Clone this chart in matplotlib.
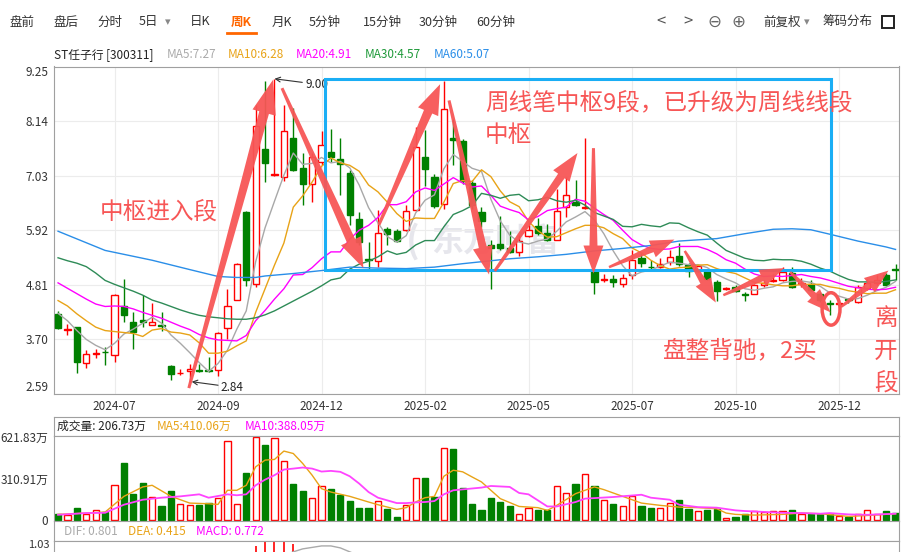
import numpy as np
import matplotlib
matplotlib.use('Agg')
from matplotlib import pyplot as plt
from matplotlib.patches import Rectangle, Polygon, Ellipse

plt.rcParams['font.family'] = ['Noto Sans CJK SC', 'DejaVu Sans']

W, H = 922, 552

# weekly candles (index 0 = first visible week)
opens = [4.22, 3.90, 3.95, 3.22, 3.41, 3.45, 3.38, 4.37, 4.05, 4.09,
         4.00, 4.00, 3.16, 3.01, 3.05, 3.08, 3.07, 3.07, 3.93, 4.51,
         6.29, 4.83, 7.58, 7.05, 7.00, 7.80, 7.19, 6.86, 7.30, 7.51,
         7.36, 7.08, 6.14, 5.34, 5.29, 5.95, 5.90, 5.92, 6.34, 7.40,
         7.00, 6.45, 7.80, 7.73, 6.88, 6.30, 5.63, 5.64, 5.55, 5.48,
         5.80, 6.00, 5.86, 5.73, 6.39, 6.49, 6.38, 5.09, 4.91, 4.93,
         4.83, 5.02, 5.36, 5.18, 5.17, 5.27, 5.39, 5.21, 5.09, 5.09,
         4.87, 4.72, 4.77, 4.62, 4.63, 4.80, 4.89, 4.90, 5.05, 4.82,
         4.83, 4.63, 4.45, 4.42, 4.51, 4.46, 4.74, 4.84, 5.00, 5.13]
highs = [4.28, 4.01, 3.96, 3.49, 3.51, 3.54, 4.62, 4.92, 4.26, 4.61,
         4.44, 4.26, 3.17, 3.10, 3.21, 3.21, 3.34, 3.85, 4.73, 5.25,
         6.31, 8.46, 8.96, 9.00, 8.46, 8.41, 7.49, 7.50, 7.93, 7.97,
         7.80, 7.14, 6.29, 5.68, 6.34, 5.98, 5.95, 6.43, 8.01, 7.95,
         7.07, 8.95, 8.19, 7.78, 6.94, 6.40, 5.73, 6.20, 5.90, 5.82,
         6.11, 6.17, 6.05, 6.76, 7.00, 6.94, 7.80, 5.10, 5.04, 5.02,
         5.04, 5.52, 5.48, 5.32, 5.35, 5.51, 5.66, 5.25, 5.22, 5.14,
         4.90, 4.77, 4.80, 4.66, 4.83, 4.90, 5.04, 5.17, 5.18, 4.94,
         4.91, 4.66, 4.50, 4.46, 4.55, 4.80, 4.92, 5.00, 5.06, 5.23]
lows = [3.92, 3.78, 3.02, 3.12, 3.33, 3.17, 3.24, 4.05, 3.51, 3.96,
        3.99, 3.88, 2.87, 2.97, 2.84, 3.04, 3.04, 2.95, 3.71, 4.50,
        4.78, 4.77, 6.90, 7.02, 6.92, 7.12, 6.43, 6.50, 7.25, 7.31,
        6.63, 6.02, 5.61, 5.14, 5.17, 5.61, 5.68, 5.90, 6.32, 6.81,
        6.37, 6.36, 7.25, 6.87, 6.35, 5.98, 4.73, 5.52, 5.45, 5.39,
        5.78, 5.82, 5.70, 5.72, 6.19, 6.41, 6.36, 4.63, 4.87, 4.77,
        4.77, 4.93, 5.17, 5.14, 5.16, 5.21, 5.19, 4.97, 5.07, 4.90,
        4.49, 4.70, 4.66, 4.49, 4.62, 4.76, 4.86, 4.89, 4.75, 4.76,
        4.68, 4.47, 4.19, 4.38, 4.44, 4.45, 4.70, 4.80, 4.78, 4.90]
closes = [3.93, 3.92, 3.24, 3.40, 3.43, 3.44, 4.61, 4.19, 3.86, 4.05,
          4.05, 3.98, 3.00, 3.02, 3.10, 3.06, 3.05, 3.84, 4.37, 5.24,
          4.90, 8.03, 7.29, 7.07, 7.93, 7.14, 6.87, 7.41, 7.65, 7.40,
          7.26, 6.22, 5.68, 5.32, 5.86, 5.85, 5.71, 6.31, 7.61, 7.16,
          6.41, 8.38, 7.75, 6.92, 6.43, 6.10, 5.55, 5.55, 5.48, 5.70,
          5.92, 5.86, 5.73, 6.31, 6.63, 6.43, 6.40, 4.87, 4.93, 4.87,
          4.95, 5.32, 5.26, 5.17, 5.23, 5.38, 5.23, 5.09, 5.19, 4.93,
          4.68, 4.74, 4.69, 4.61, 4.80, 4.84, 4.91, 5.07, 4.77, 4.84,
          4.71, 4.50, 4.43, 4.44, 4.50, 4.77, 4.84, 4.90, 4.80, 5.11]

ma5 = [4.23, 4.08, 3.88, 3.70, 3.58, 3.49, 3.62, 3.81, 3.91, 4.03,
       4.15, 4.03, 3.79, 3.62, 3.43, 3.23, 3.05, 3.21, 3.48, 3.91,
       4.28, 5.28, 5.97, 6.51, 7.04, 7.49, 7.26, 7.28, 7.40, 7.29,
       7.32, 7.19, 6.84, 6.38, 6.07, 5.79, 5.68, 5.81, 6.27, 6.53,
       6.64, 7.17, 7.46, 7.32, 7.18, 7.12, 6.55, 6.11, 5.82, 5.68,
       5.64, 5.70, 5.74, 5.90, 6.09, 6.19, 6.30, 6.13, 5.85, 5.50,
       5.20, 4.99, 5.07, 5.11, 5.19, 5.27, 5.25, 5.22, 5.22, 5.16,
       5.02, 4.93, 4.85, 4.73, 4.70, 4.74, 4.77, 4.85, 4.88, 4.89,
       4.86, 4.78, 4.65, 4.58, 4.52, 4.53, 4.60, 4.69, 4.76, 4.88]
ma10 = [4.49, 4.38, 4.22, 4.08, 3.95, 3.88, 3.86, 3.84, 3.82, 3.76,
        3.89, 3.92, 3.85, 3.83, 3.79, 3.63, 3.42, 3.42, 3.46, 3.57,
        3.67, 4.25, 4.73, 5.21, 5.66, 6.39, 6.62, 6.90, 7.22, 7.39,
        7.29, 7.24, 7.12, 6.84, 6.70, 6.49, 6.26, 6.10, 6.17, 6.16,
        6.16, 6.49, 6.87, 6.93, 6.91, 7.15, 7.01, 6.72, 6.50, 6.40,
        6.10, 5.91, 5.78, 5.79, 5.87, 5.95, 6.02, 6.02, 5.97, 5.85,
        5.75, 5.56, 5.46, 5.31, 5.20, 5.13, 5.16, 5.17, 5.21, 5.22,
        5.14, 5.08, 5.04, 4.95, 4.86, 4.84, 4.81, 4.79, 4.79, 4.82,
        4.82, 4.82, 4.77, 4.74, 4.69, 4.66, 4.63, 4.64, 4.64, 4.71]
ma20 = [4.85, 4.74, 4.63, 4.52, 4.42, 4.37, 4.38, 4.37, 4.32, 4.25,
        4.19, 4.13, 4.05, 3.97, 3.90, 3.80, 3.73, 3.69, 3.68, 3.67,
        3.78, 4.08, 4.29, 4.52, 4.73, 5.01, 5.02, 5.16, 5.34, 5.48,
        5.48, 5.74, 5.92, 6.02, 6.18, 6.44, 6.44, 6.50, 6.70, 6.78,
        6.73, 6.86, 6.99, 6.88, 6.80, 6.82, 6.63, 6.41, 6.34, 6.28,
        6.13, 6.20, 6.32, 6.36, 6.39, 6.55, 6.51, 6.37, 6.24, 6.12,
        5.92, 5.73, 5.62, 5.55, 5.53, 5.54, 5.59, 5.59, 5.59, 5.53,
        5.44, 5.32, 5.25, 5.13, 5.03, 4.98, 4.99, 4.98, 5.00, 5.02,
        4.98, 4.95, 4.90, 4.84, 4.78, 4.75, 4.72, 4.71, 4.72, 4.76]
ma30 = [5.36, 5.30, 5.25, 5.18, 5.05, 4.90, 4.82, 4.75, 4.68, 4.60,
        4.50, 4.44, 4.37, 4.30, 4.24, 4.19, 4.16, 4.14, 4.12, 4.11,
        4.11, 4.14, 4.20, 4.28, 4.38, 4.48, 4.58, 4.68, 4.79, 4.91,
        4.95, 5.13, 5.23, 5.29, 5.38, 5.50, 5.43, 5.47, 5.62, 5.71,
        5.71, 5.99, 6.24, 6.32, 6.42, 6.67, 6.63, 6.57, 6.63, 6.65,
        6.52, 6.54, 6.59, 6.52, 6.49, 6.53, 6.43, 6.28, 6.21, 6.14,
        6.00, 5.99, 6.04, 6.01, 5.99, 6.07, 6.06, 5.97, 5.89, 5.82,
        5.66, 5.51, 5.43, 5.35, 5.31, 5.30, 5.33, 5.32, 5.32, 5.29,
        5.23, 5.15, 5.09, 5.00, 4.92, 4.87, 4.87, 4.86, 4.88, 4.91]
ma60_idx = [0, 5, 10, 14, 17, 19, 21, 22, 25, 28, 31, 34, 37, 40, 43, 45,
            48, 51, 54, 57, 60, 63, 66, 70, 73, 76, 78, 80, 82, 85, 88, 89]
ma60 = [5.90, 5.51, 5.31, 5.12, 4.98, 4.96, 4.96, 4.99, 5.04, 5.10, 5.17,
        5.15, 5.14, 5.17, 5.24, 5.28, 5.34, 5.38, 5.43, 5.50, 5.55, 5.61,
        5.70, 5.75, 5.85, 5.94, 5.95, 5.93, 5.84, 5.70, 5.58, 5.53]

# volume, 万股
volumes = [50, 37, 95, 50, 80, 65, 266, 423, 194, 281,
           174, 104, 216, 124, 117, 112, 129, 169, 589, 124,
           353, 621.83, 560, 612, 440, 269, 216, 169, 254, 231,
           187, 142, 92, 92, 142, 82, 25, 117, 318, 318,
           174, 535, 530, 244, 124, 75, 164, 137, 104, 50,
           92, 80, 80, 259, 206, 269, 348, 254, 154, 119,
           109, 184, 104, 90, 90, 132, 149, 82, 72, 75,
           82, 20, 22, 50, 72, 60, 72, 72, 75, 50,
           45, 50, 47, 35, 22, 50, 80, 50, 67, 57]
vma5_idx = [0, 3, 5, 7, 9, 10, 12, 14, 16, 17, 18, 19, 20, 21, 22, 23, 24, 25,
            26, 27, 28, 29, 31, 33, 34, 36, 37, 38, 39, 40, 41, 42, 43, 44, 45,
            47, 49, 51, 52, 53, 55, 57, 58, 60, 62, 64, 66, 68, 70, 71, 72, 74,
            77, 79, 81, 83, 84, 86, 89]
vma5 = [45, 55, 62, 179, 249, 261, 179, 129, 124, 119, 224, 224, 261, 398,
        448, 453, 515, 497, 423, 336, 236, 211, 179, 137, 117, 82, 95, 137,
        169, 179, 328, 373, 361, 323, 286, 162, 104, 95, 75, 112, 199, 249,
        229, 179, 129, 112, 99, 95, 87, 55, 45, 40, 45, 55, 50, 37, 30, 37, 50]
vma10_idx = [0, 3, 5, 7, 9, 11, 13, 15, 16, 18, 19, 20, 21, 22, 23, 24, 25,
             26, 27, 28, 29, 30, 31, 32, 33, 34, 35, 36, 37, 38, 39, 40, 41,
             42, 45, 46, 48, 49, 50, 52, 53, 55, 56, 59, 62, 63, 65, 66, 68,
             70, 72, 73, 77, 79, 81, 82, 84, 86, 89]
vma10 = [42, 55, 57, 117, 154, 169, 179, 194, 169, 194, 187, 194, 261, 303,
         336, 378, 385, 393, 385, 363, 368, 361, 328, 274, 211, 169, 149, 129,
         129, 134, 137, 144, 194, 224, 244, 256, 249, 204, 194, 104, 104, 137,
         162, 174, 191, 169, 154, 117, 99, 95, 75, 70, 57, 55, 50, 55, 45, 42, 50]

# MACD strip (only its top edge is visible)
macd_idx = [21, 22, 23, 24, 25]
macd = [0.93, 1.20, 1.30, 1.30, 0.97]
dif_idx = [23, 25, 26, 28, 29, 30, 31, 33]
dif = [0.66, 0.81, 0.87, 0.93, 0.93, 0.89, 0.81, 0.65]

price_ticks = [2.59, 3.70, 4.81, 5.92, 7.03, 8.14, 9.25]
date_ticks = [6, 17, 28, 39, 50, 61, 72, 83]
date_labels = ['2024-07', '2024-09', '2024-12', '2025-02',
               '2025-05', '2025-07', '2025-10', '2025-12']
vol_ticks = [0, 310.91, 621.83]
vol_labels = ['0', '310.91万', '621.83万']

RED = '#ff0000'
GREEN = '#008000'
ANN = '#f75656'
FRAME = '#a0a0a0'

fig = plt.figure(figsize=(W / 100, H / 100), dpi=100)


def fx(px):
    return px / W


def fy(py):
    return 1 - py / H


def axes_px(x0, y0, x1, y1):
    a = fig.add_axes([fx(x0), fy(y1), (x1 - x0) / W, (y1 - y0) / H])
    for s in a.spines.values():
        s.set_color(FRAME)
    return a


idx = np.arange(len(closes))
o = np.array(opens)
c = np.array(closes)
up = c >= o
edge = np.where(up, RED, GREEN)
face = np.where(up, 'white', GREEN)
xmin, xmax = -0.43, 89.37

# ---- price panel
ax = axes_px(54, 66.5, 899, 394)
ax.set_xlim(xmin, xmax)
ax.set_ylim(2.59, 9.25)
ax.set_xticks(date_ticks)
ax.set_xticklabels(date_labels)
ax.set_yticks(price_ticks)
ax.set_yticklabels(['%.2f' % v for v in price_ticks])
ax.grid(color='#ececec', lw=0.8)
ax.set_axisbelow(True)
ax.tick_params(length=0, labelsize=8.5, colors='#333333')
ax.tick_params(axis='x', pad=4)
ax.tick_params(axis='y', pad=4)
ax.yaxis.get_major_ticks()[0].label1.set_verticalalignment('bottom')
ax.yaxis.get_major_ticks()[-1].label1.set_verticalalignment('top')

# watermark
ax.text(fx(431), fy(243), '东方财富', transform=fig.transFigure, fontsize=23,
        fontweight='bold', color='#e6e6ec', va='center', ha='left', zorder=0.5)
ax.text(fx(413), fy(242), '(', transform=fig.transFigure, fontsize=26,
        fontweight='bold', color='#e6e6ec', va='center', ha='center', zorder=0.5)

ax.vlines(idx, lows, highs, colors=edge, lw=1, zorder=2)
body = np.maximum(np.abs(c - o), 0.012)
ax.bar(idx, body, bottom=np.minimum(o, c), width=0.66, color=face,
       edgecolor=edge, linewidth=1, zorder=3)

ax.plot(idx, ma5, color='#a8a8a8', lw=1, zorder=4)
ax.plot(idx, ma10, color='#e8a317', lw=1, zorder=4)
ax.plot(idx, ma20, color='#ff00ff', lw=1, zorder=4)
ax.plot(idx, ma30, color='#2e8b57', lw=1, zorder=4)
ax.plot(ma60_idx, ma60, color='#2a8ee8', lw=1, zorder=4)

ax.annotate('9.00', xy=(23, 9.00), xytext=(26.25, 8.89), fontsize=8.5,
            color='#222222', va='center', ha='left',
            arrowprops=dict(arrowstyle='->', color='#333333', lw=0.8,
                            shrinkA=0, shrinkB=0))
ax.annotate('2.84', xy=(14.2, 2.84), xytext=(17.3, 2.73), fontsize=8.5,
            color='#222222', va='center', ha='left', annotation_clip=False,
            arrowprops=dict(arrowstyle='->', color='#333333', lw=0.8,
                            shrinkA=0, shrinkB=0))

ax.add_patch(Rectangle((28.4, 5.11), 82.15 - 28.4, 8.99 - 5.11, fill=False,
                       ec='#1aaef5', lw=2.2, zorder=5))
ax.add_patch(Ellipse((82.15, 4.32), 1.9, 0.66, fill=False, ec=ANN, lw=2.5,
                     zorder=6))


def fat_arrow(p0, p1, w0, w1, hw, hl):
    a = ax.transData.transform(p0)
    b = ax.transData.transform(p1)
    d = b - a
    u = d / np.hypot(*d)
    n = np.array([-u[1], u[0]])
    neck = b - u * hl
    pts = [a + n * w0, neck + n * w1, neck + n * hw, b,
           neck - n * hw, neck - n * w1, a - n * w0]
    pts = ax.transData.inverted().transform(np.array(pts))
    ax.add_patch(Polygon(pts, closed=True, fc=ANN, ec='none', alpha=0.95,
                         zorder=6, clip_on=False))


fat_arrow((13.9, 2.71), (22.85, 8.98), 1.5, 5, 12, 34)
fat_arrow((23.8, 8.81), (32.45, 5.15), 1.5, 4.5, 11, 30)
fat_arrow((34.1, 6.03), (40.6, 8.89), 1.5, 4.5, 11, 30)
fat_arrow((41.55, 8.56), (45.8, 5.02), 1.5, 4, 10, 28)
fat_arrow((46.4, 5.09), (55.2, 7.49), 1.5, 4, 10, 28)
fat_arrow((56.9, 7.59), (56.9, 5.04), 1.5, 4, 10, 28)
fat_arrow((58.55, 5.17), (65.5, 5.73), 1.2, 3.5, 9, 24)
fat_arrow((66.6, 5.50), (69.9, 4.45), 1.2, 3.5, 9, 24)
fat_arrow((70.7, 4.60), (77.15, 5.15), 1.2, 3.5, 9, 24)
fat_arrow((77.8, 5.07), (82.1, 4.25), 1.2, 3.5, 9, 24)
fat_arrow((83.2, 4.36), (88.25, 5.10), 1.2, 3.5, 9, 24)

fig.text(fx(100), fy(212), '中枢进入段', fontsize=17, color=ANN, va='center')
fig.text(fx(485), fy(103), '周线笔中枢9段，已升级为周线线段', fontsize=17,
         color=ANN, va='center')
fig.text(fx(485), fy(135), '中枢', fontsize=17, color=ANN, va='center')
fig.text(fx(663), fy(351), '盘整背驰，2买', fontsize=17, color=ANN, va='center')
for ch, py in zip('离开段', (318, 351, 383)):
    fig.text(fx(886), fy(py), ch, fontsize=17, color=ANN, va='center',
             ha='center')

# ---- volume panel
axvh = axes_px(54, 417, 899, 436)
axvh.set_xticks([])
axvh.set_yticks([])
fig.text(fx(57), fy(426), '成交量: 206.73万', fontsize=8.5, color='#222222',
         va='center')
fig.text(fx(157), fy(426), 'MA5:410.06万', fontsize=8.5, color='#e8a317',
         va='center')
fig.text(fx(245), fy(426), 'MA10:388.05万', fontsize=8.5, color='#ff00ff',
         va='center')

axv = axes_px(54, 436, 899, 521)
axv.set_xlim(xmin, xmax)
axv.set_ylim(-4, 627)
axv.set_xticks([])
axv.set_yticks(vol_ticks)
axv.set_yticklabels(vol_labels)
axv.tick_params(length=0, labelsize=8.5, colors='#333333', pad=4)
axv.bar(idx, volumes, width=0.66, color=face, edgecolor=edge, linewidth=1,
        zorder=2)
axv.plot(vma5_idx, vma5, color='#e8a317', lw=1, zorder=3)
axv.plot(vma10_idx, vma10, color='#ff44ff', lw=1.3, zorder=3)

# ---- MACD panel
axmh = axes_px(54, 521, 899, 541)
axmh.set_xticks([])
axmh.set_yticks([])
fig.text(fx(64), fy(531.5), 'DIF: 0.801', fontsize=8.5, color='#aaaaaa',
         va='center')
fig.text(fx(128), fy(531.5), 'DEA: 0.415', fontsize=8.5, color='#e8a317',
         va='center')
fig.text(fx(196), fy(531.5), 'MACD: 0.772', fontsize=8.5, color='#ff00ff',
         va='center')

axm = axes_px(54, 541, 899, 641)
axm.set_xlim(xmin, xmax)
axm.set_ylim(-1.0, 1.03)
axm.set_xticks([])
axm.set_yticks([])
axm.vlines(macd_idx, 0, macd, colors=RED, lw=1.2)
axm.plot(dif_idx, dif, color='#aaaaaa', lw=1)
fig.text(fx(50), fy(545.5), '1.03', fontsize=8, color='#333333', ha='right',
         va='center')

# ---- top toolbar
menu = [('盘前', 22), ('盘后', 66), ('分时', 110), ('5日', 148), ('日K', 200),
        ('周K', 241), ('月K', 282), ('5分钟', 325), ('15分钟', 382),
        ('30分钟', 438), ('60分钟', 496)]
for label, px in menu:
    if label == '周K':
        fig.text(fx(px), fy(22), label, fontsize=9, color='#ff6600',
                 fontweight='bold', ha='center', va='center')
    else:
        fig.text(fx(px), fy(22), label, fontsize=9, color='#333333',
                 ha='center', va='center')
fig.text(fx(168), fy(22), '▾', fontsize=8, color='#888888', ha='center',
         va='center')
fig.add_artist(plt.Line2D([fx(227), fx(256)], [fy(33), fy(33)], lw=2,
                          color='#ff6600'))
fig.text(fx(661), fy(22), '<', fontsize=12, color='#555555', ha='center',
         va='center')
fig.text(fx(688), fy(22), '>', fontsize=12, color='#555555', ha='center',
         va='center')
fig.text(fx(714), fy(22), '⊖', fontsize=12, color='#666666', ha='center',
         va='center', family='DejaVu Sans')
fig.text(fx(738), fy(22), '⊕', fontsize=12, color='#666666', ha='center',
         va='center', family='DejaVu Sans')
fig.text(fx(782), fy(22), '前复权', fontsize=9, color='#333333', ha='center',
         va='center')
fig.text(fx(807), fy(22), '▾', fontsize=8, color='#888888', ha='center',
         va='center')
fig.text(fx(847), fy(22), '筹码分布', fontsize=9, color='#333333',
         ha='center', va='center')
fig.add_artist(Rectangle((fx(882), fy(28)), 12 / W, 12 / H, fill=False,
                         ec='#222222', lw=1.4, transform=fig.transFigure))

# ---- second header line
fig.text(fx(54), fy(55), 'ST任子行 [300311]', fontsize=8.5, color='#222222',
         va='center')
fig.text(fx(167), fy(55), 'MA5:7.27', fontsize=8.5, color='#aaaaaa',
         va='center')
fig.text(fx(228), fy(55), 'MA10:6.28', fontsize=8.5, color='#e8a317',
         va='center')
fig.text(fx(296), fy(55), 'MA20:4.91', fontsize=8.5, color='#ff00ff',
         va='center')
fig.text(fx(365), fy(55), 'MA30:4.57', fontsize=8.5, color='#1f9a3a',
         va='center')
fig.text(fx(434), fy(55), 'MA60:5.07', fontsize=8.5, color='#2a8ee8',
         va='center')

fig.savefig('out.png', dpi=100)
